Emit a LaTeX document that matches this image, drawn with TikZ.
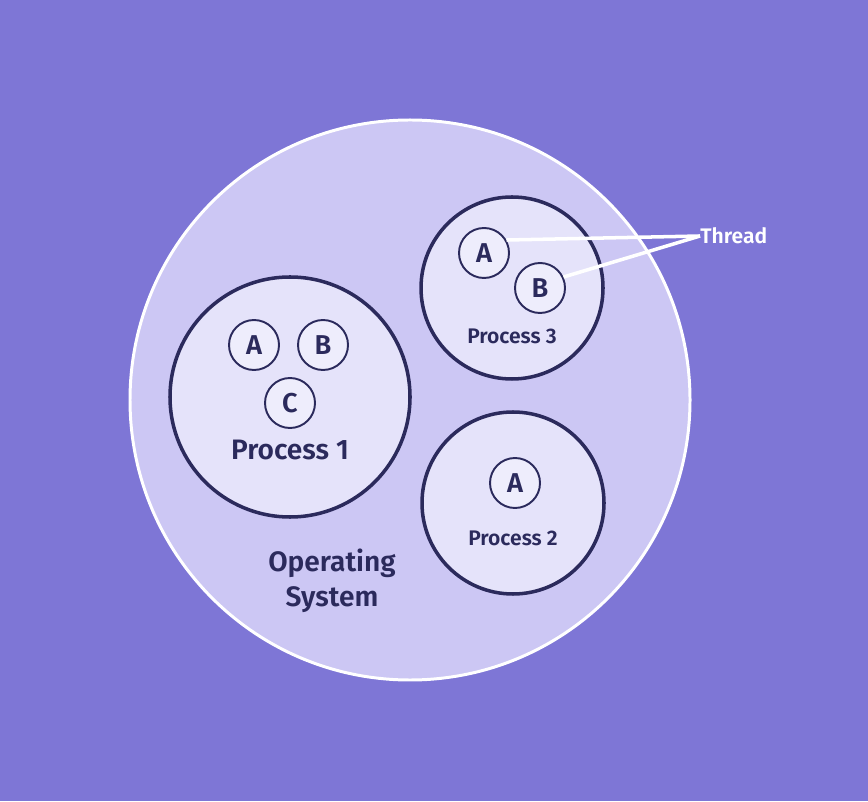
\documentclass[tikz,border=0pt]{standalone}
\usepackage{fontspec}
\setmainfont{Fira Sans}[BoldFont={Fira Sans SemiBold}]
\usepackage{xcolor}
\usepackage{tikz}
\usetikzlibrary{positioning, backgrounds, calc}
\definecolor{osbg}{HTML}{7E76D6}
\definecolor{osfill}{HTML}{CCC7F4}
\definecolor{procfill}{HTML}{E5E3FA}
\definecolor{thrfill}{HTML}{EEEDFC}
\definecolor{osnavy}{HTML}{2B2A5C}
\tikzset{
  osnode/.style={circle, draw=white, fill=osfill, line width=1.7pt, minimum size=11.2cm, inner sep=0pt},
  procnode/.style={circle, draw=osnavy, fill=procfill, line width=2pt, minimum size=3.64cm, inner sep=0pt},
  thrnode/.style={circle, draw=osnavy, fill=thrfill, line width=1.1pt, minimum size=1.0cm, inner sep=0pt, text=osnavy, font=\fontsize{15.5}{17}\selectfont\bfseries},
  proclabel/.style={text=osnavy, font=\fontsize{12}{14}\selectfont\bfseries, inner sep=1pt},
  biglabel/.style={text=osnavy, font=\fontsize{16}{20}\selectfont\bfseries, inner sep=1pt, align=center},
  pointer/.style={draw=white, line width=2pt}
}
\begin{document}
\begin{tikzpicture}
  % backdrop fixes the page size
  \fill[osbg] (0,0) rectangle (17.36,16.02);
  \useasboundingbox (0,0) rectangle (17.36,16.02);

  % the operating system holds all processes
  \node[osnode] at (8.2,8.02) (os) {};
  \node[biglabel] at (6.64,4.4) (oslabel) {Operating\\System};

  % Process 1: three threads
  \node[procnode, minimum size=4.8cm] at (5.8,8.08) (proc1) {};
  \node[thrnode] at (5.08,9.12) (p1a) {A};
  \node[thrnode] at (6.46,9.12) (p1b) {B};
  \node[thrnode] at (5.8,7.96) (p1c) {C};
  \node[biglabel] at (5.8,7.02) (p1label) {Process 1};

  % Process 3: two threads
  \node[procnode] at (10.24,10.26) (proc3) {};
  \node[thrnode] at (9.68,10.96) (p3a) {A};
  \node[thrnode] at (10.8,10.26) (p3b) {B};
  \node[proclabel] at (10.24,9.3) (p3label) {Process 3};

  % Process 2: one thread
  \node[procnode] at (10.26,5.96) (proc2) {};
  \node[thrnode] at (10.3,6.36) (p2a) {A};
  \node[proclabel] at (10.26,5.26) (p2label) {Process 2};

  % callout for the threads of process 3
  \node[proclabel, text=white, anchor=west, inner sep=0pt] at (14.0,11.3) (thread) {Thread};
  \draw[pointer] (p3a.30) -- (thread.west);
  \draw[pointer] (p3b.25) -- (thread.west);
\end{tikzpicture}
\end{document}
